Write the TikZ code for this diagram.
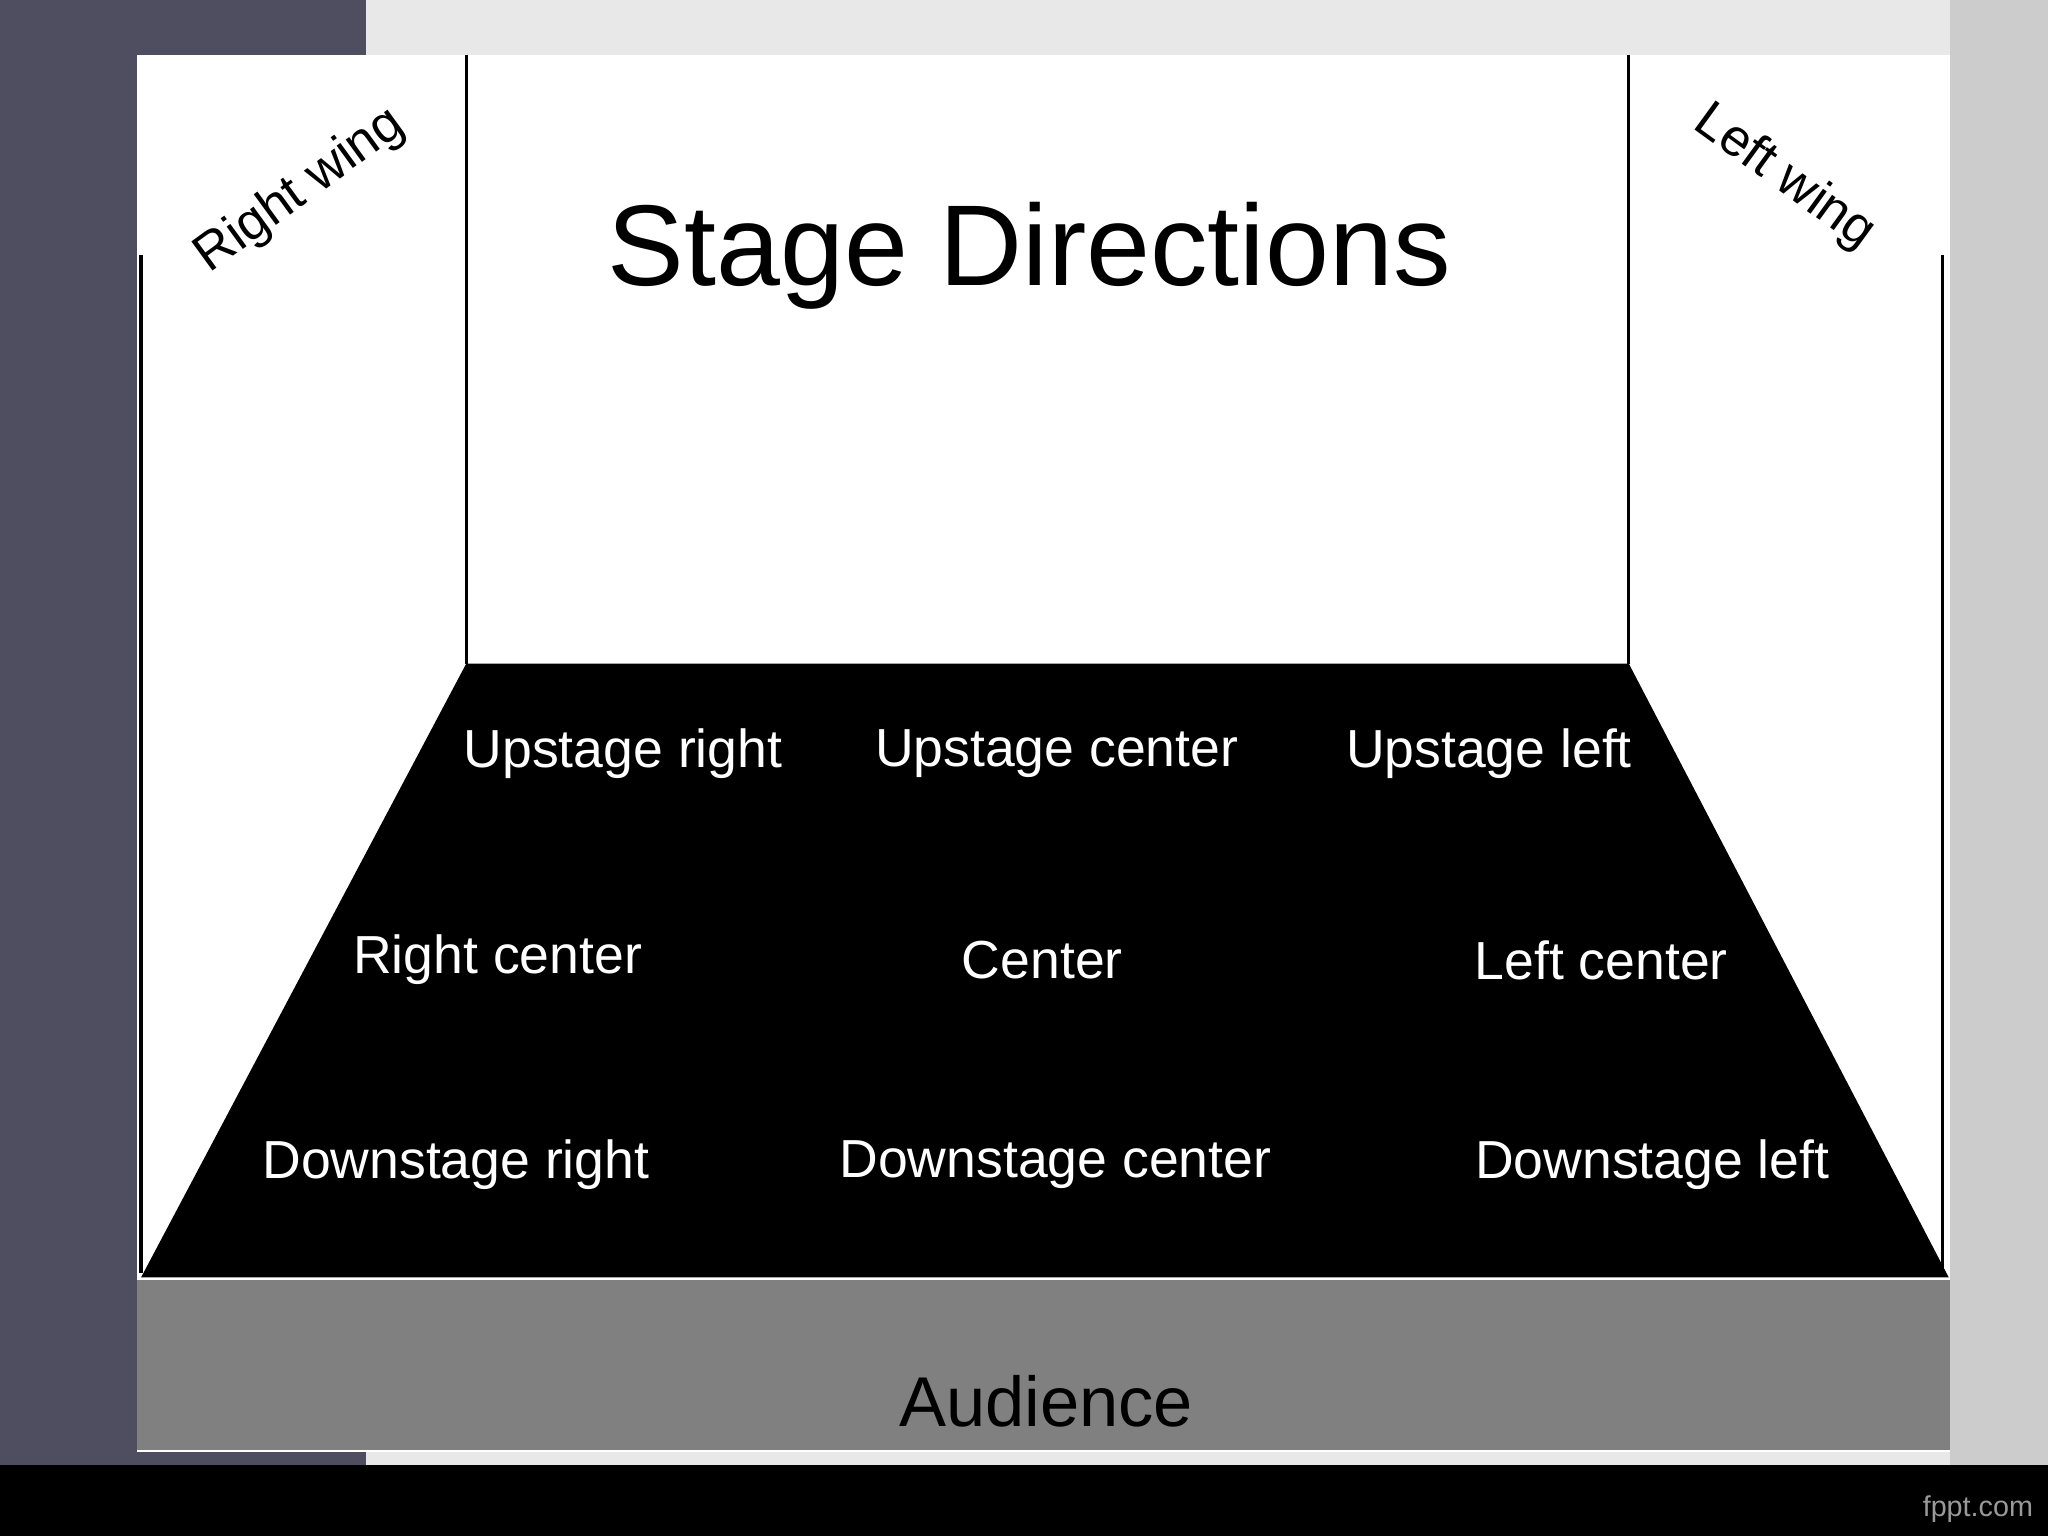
\documentclass[tikz,border=0pt]{standalone}
\usepackage{fontspec}
\setmainfont{Liberation Sans}
\definecolor{slate}{HTML}{4E4E60}
\definecolor{aud}{HTML}{808080}
\begin{document}
\begin{tikzpicture}[x=1pt,y=-1pt,
  lab/.style={text=white,font=\fontsize{41}{41}\selectfont,inner sep=0},
  wall/.style={line width=2.5pt,black}]
\useasboundingbox (0,0) rectangle (1568,1176);
\fill[gray!18] (0,0) rectangle (1568,1176);
\fill[black!20!white] (1493,0) rectangle (1568,1122);
\fill[slate] (0,0) rectangle (280,1122);
\fill[black] (0,1122) rectangle (1568,1176);
\node[text=gray!80,font=\fontsize{22}{22}\selectfont,anchor=east] (fp) at (1560,1155) {fppt.com};
\fill[white] (105,42) rectangle (1493,1112);
\fill[aud] (105,980) rectangle (1493,1110);
\fill[black] (357,508) -- (1247,508) -- (1492,978) -- (108,978) -- cycle;
\draw[wall] (357,42) -- (357,508);
\draw[wall] (1247,42) -- (1247,508);
\draw[wall] (108,195) -- (108,975);
\draw[wall] (1487,195) -- (1487,975);
\node[font=\fontsize{88}{88}\selectfont,inner sep=0] (title) at (788,196) {Stage Directions};
\node[font=\fontsize{40}{40}\selectfont,rotate=36,inner sep=0] (rw) at (230,146) {Right wing};
\node[font=\fontsize{40}{40}\selectfont,rotate=-36,inner sep=0] (lw) at (1366,136) {Left wing};
\node[lab] (ur) at (477,577) {Upstage right};
\node[lab] (uc) at (809,577) {Upstage center};
\node[lab] (ul) at (1140,577) {Upstage left};
\node[lab] (rc) at (381,735) {Right center};
\node[lab] (c) at (798,735) {Center};
\node[lab] (lc) at (1226,735) {Left center};
\node[lab] (dr) at (349,892) {Downstage right};
\node[lab] (dc) at (808,892) {Downstage center};
\node[lab] (dl) at (1265,892) {Downstage left};
\node[font=\fontsize{54}{54}\selectfont,inner sep=0] (aud) at (801,1073) {Audience};
\end{tikzpicture}
\end{document}
